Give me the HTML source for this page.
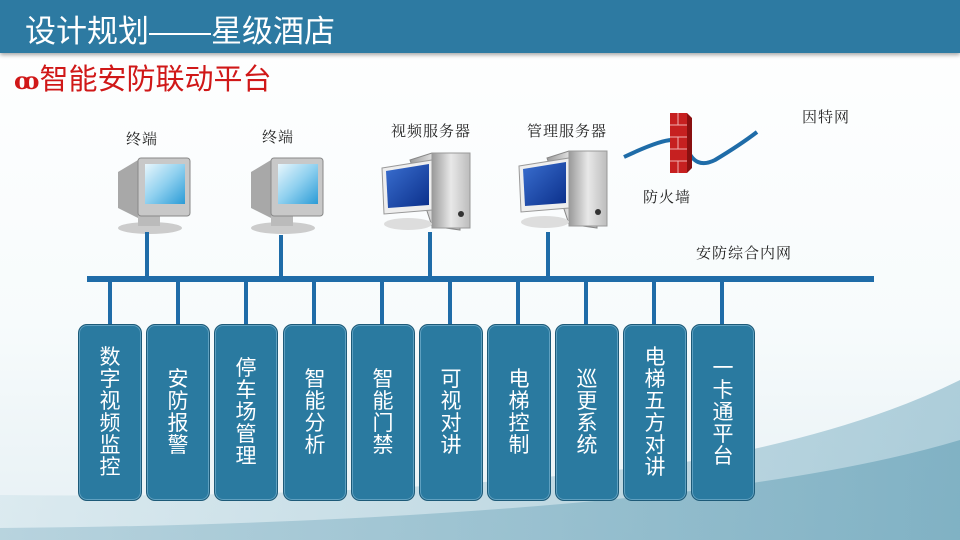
<!DOCTYPE html>
<html><head><meta charset="utf-8"><style>
body{margin:0;width:960px;height:540px;overflow:hidden;background:#fff;font-family:"Liberation Sans","Noto Sans CJK SC",sans-serif;}
.wrap{position:relative;width:960px;height:540px;background:linear-gradient(180deg,#ffffff 0%,#f7fbfc 60%,#e6f0f4 100%);}
.hdr{position:absolute;left:0;top:0;width:960px;height:53px;background:#2d7aa2;box-shadow:0 2px 4px rgba(0,0,0,.35);}
.ttl{position:absolute;left:25px;top:12px;color:#fff;font-size:31px;line-height:40px;white-space:nowrap;}
.sub{position:absolute;left:14px;top:62px;color:#d01818;font-size:29px;line-height:36px;white-space:nowrap;}
.lbl{position:absolute;font-family:"Noto Serif CJK SC",serif;font-size:15px;color:#222;white-space:nowrap;letter-spacing:1px;}
.box{position:absolute;top:324px;width:62px;height:175px;background:#2a7aa0;border:1px solid #1d5a78;border-radius:9px;box-shadow:inset 0 0 0 1px #5fa0c0;color:#fff;font-size:21px;line-height:22px;display:flex;align-items:center;justify-content:center;text-align:center;}
.box span{width:24px;display:block;}
</style></head><body><div class="wrap">
<svg width="960" height="540" style="position:absolute;left:0;top:0">
<defs>
<linearGradient id="bg" x1="0" y1="0" x2="1" y2="0"><stop offset="0" stop-color="#d8e8ee"/><stop offset="1" stop-color="#9cc3d2"/></linearGradient>
<linearGradient id="bg2" x1="0" y1="0" x2="1" y2="0"><stop offset="0" stop-color="#a9cad7"/><stop offset="1" stop-color="#6ea6bb"/></linearGradient>
<linearGradient id="scr" x1="0" y1="0" x2="1" y2="1"><stop offset="0" stop-color="#e8f6fc"/><stop offset=".5" stop-color="#8fd0ef"/><stop offset="1" stop-color="#2b9bd6"/></linearGradient>
<linearGradient id="scr2" x1="0" y1="0" x2="1" y2="1"><stop offset="0" stop-color="#3a6fd0"/><stop offset="1" stop-color="#0b2f8a"/></linearGradient>
<linearGradient id="case" x1="0" y1="0" x2="1" y2="0"><stop offset="0" stop-color="#9a9a9a"/><stop offset=".5" stop-color="#e8e8e8"/><stop offset="1" stop-color="#bcbcbc"/></linearGradient>
</defs>
<path d="M0 540 L0 495 Q400 500 700 460 Q860 430 960 380 L960 540 Z" fill="url(#bg)" opacity=".8"/>
<path d="M0 540 L0 528 Q400 525 700 490 Q860 470 960 440 L960 540 Z" fill="url(#bg2)" opacity=".7"/>
<g id="t1">
<ellipse cx="150" cy="228" rx="32" ry="6" fill="#ccc"/>
<rect x="138" y="212" width="22" height="14" fill="#bbb"/>
<path d="M118 172 L138 160 L138 218 L118 208 Z" fill="#a8a8a8"/>
<rect x="138" y="158" width="52" height="58" rx="3" fill="#c8c8c8" stroke="#888"/>
<rect x="145" y="164" width="40" height="40" fill="url(#scr)"/>
</g>
<use href="#t1" x="133" y="0"/>
<g id="s1">
<path d="M410 160 L432 153 L460 158 L460 230 L432 226 Z" fill="url(#case)" stroke="#888"/>
<rect x="432" y="153" width="38" height="75" fill="url(#case)" stroke="#999"/>
<circle cx="461" cy="214" r="3" fill="#333"/>
<ellipse cx="408" cy="224" rx="24" ry="6" fill="#ddd"/>
<path d="M382 168 L432 160 L432 210 L384 214 Z" fill="#eee" stroke="#999"/>
<path d="M386 171 L429 164 L429 205 L388 208 Z" fill="url(#scr2)"/>
</g>
<use href="#s1" x="137" y="-2"/>
<rect x="87" y="276" width="787" height="6" fill="#1f6ca8"/>
<g fill="#1f6ca8">
<rect x="145" y="232" width="4" height="45"/><rect x="279" y="235" width="4" height="42"/>
<rect x="428" y="232" width="4" height="45"/><rect x="546" y="232" width="4" height="45"/>
<rect x="108" y="280" width="4" height="44"/><rect x="176" y="280" width="4" height="44"/><rect x="244" y="280" width="4" height="44"/><rect x="312" y="280" width="4" height="44"/><rect x="380" y="280" width="4" height="44"/><rect x="448" y="280" width="4" height="44"/><rect x="516" y="280" width="4" height="44"/><rect x="584" y="280" width="4" height="44"/><rect x="652" y="280" width="4" height="44"/><rect x="720" y="280" width="4" height="44"/>
</g>
<path d="M624 157 Q660 140 672 140 M687 148 Q695 170 715 160 Q740 145 757 132" fill="none" stroke="#1f6ca8" stroke-width="4"/>
<rect x="670" y="113" width="17" height="60" fill="#c62020"/>
<path d="M687 113 L692 118 L692 168 L687 173 Z" fill="#8a1010"/>
<g stroke="#f0b0b0" stroke-width="1"><line x1="670" y1="125" x2="687" y2="125"/><line x1="670" y1="137" x2="687" y2="137"/><line x1="670" y1="149" x2="687" y2="149"/><line x1="670" y1="161" x2="687" y2="161"/><line x1="678" y1="113" x2="678" y2="125"/><line x1="678" y1="137" x2="678" y2="149"/><line x1="678" y1="161" x2="678" y2="173"/></g>
</svg>
<div class="hdr"></div>
<div class="ttl">设计规划——星级酒店</div>
<div class="sub"><span style="font-family:'DejaVu Serif',serif;font-weight:bold;font-size:24px">ꝏ</span>智能安防联动平台</div>
<div class="lbl" style="left:126px;top:128px">终端</div>
<div class="lbl" style="left:262px;top:126px">终端</div>
<div class="lbl" style="left:391px;top:120px">视频服务器</div>
<div class="lbl" style="left:527px;top:120px">管理服务器</div>
<div class="lbl" style="left:802px;top:106px">因特网</div>
<div class="lbl" style="left:643px;top:186px">防火墙</div>
<div class="lbl" style="left:696px;top:242px">安防综合内网</div>
<div class="box" style="left:78px"><span>数字视频监控</span></div>
<div class="box" style="left:146px"><span>安防报警</span></div>
<div class="box" style="left:214px"><span>停车场管理</span></div>
<div class="box" style="left:283px"><span>智能分析</span></div>
<div class="box" style="left:351px"><span>智能门禁</span></div>
<div class="box" style="left:419px"><span>可视对讲</span></div>
<div class="box" style="left:487px"><span>电梯控制</span></div>
<div class="box" style="left:555px"><span>巡更系统</span></div>
<div class="box" style="left:623px"><span>电梯五方对讲</span></div>
<div class="box" style="left:691px"><span>一卡通平台</span></div>
</div></body></html>
